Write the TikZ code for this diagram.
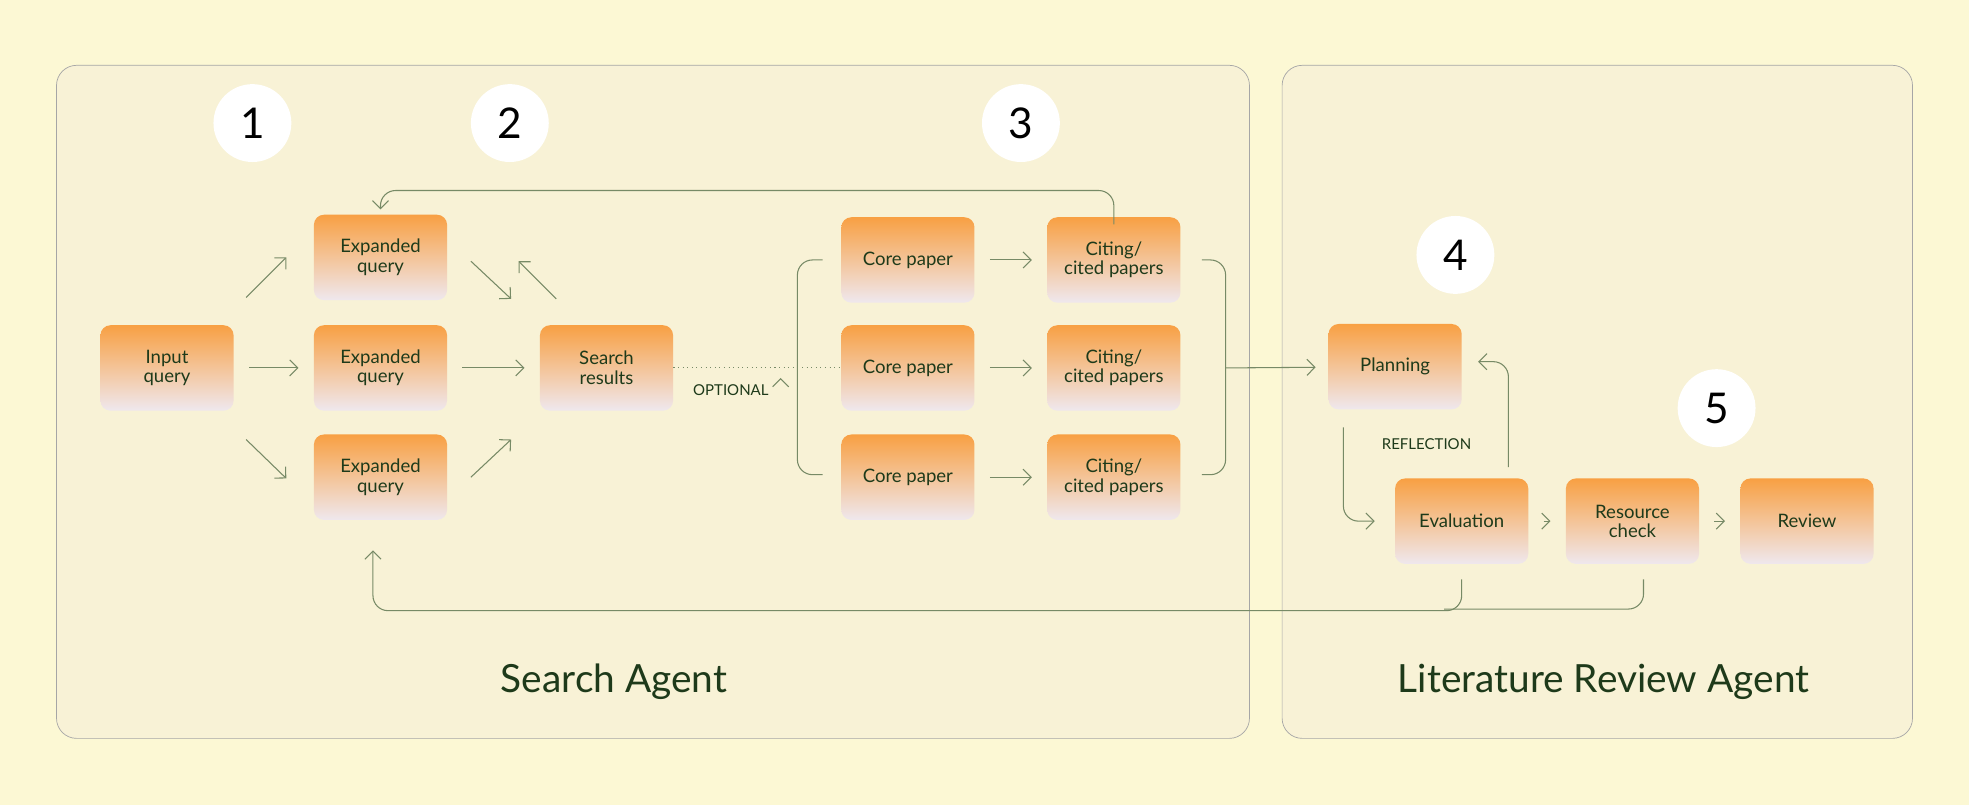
\documentclass[tikz,border=0pt]{standalone}
\usepackage{fontspec}
\setmainfont{Lato}
\usetikzlibrary{arrows.meta}
\definecolor{bg}{HTML}{FCF8D4}
\definecolor{panel}{HTML}{F8F2D6}
\definecolor{ink}{HTML}{1E3A1A}
\definecolor{wire}{HTML}{778A66}
\definecolor{ora}{HTML}{F8A043}
\definecolor{lav}{HTML}{EFE8EE}
\tikzset{
  box/.style={rounded corners=0.2cm, minimum width=2.65cm, minimum height=1.7cm, align=center,
    top color=ora, bottom color=lav, draw=none, text=ink, font=\fontsize{10.5}{11}\selectfont},
  num/.style={circle, fill=white, minimum size=1.55cm, text=black, font=\fontsize{24}{24}\selectfont},
  arr/.style={-{Straight Barb[length=1.6mm,width=3.2mm]}, draw=wire, line width=0.6pt},
  gap/.style={shorten <=0.3cm, shorten >=0.3cm},
  lbl/.style={text=ink, font=\fontsize{8.5}{9}\selectfont},
  ttl/.style={text=ink, font=\fontsize{22}{24}\selectfont}
}
\begin{document}
\begin{tikzpicture}[x=0.025cm, y=-0.025cm]
\useasboundingbox[fill=bg] (0,0) rectangle (1568,641);
\draw[fill=panel, draw=black!35, rounded corners=0.4cm, line width=0.4pt] (45,52) rectangle (995,588);
\draw[fill=panel, draw=black!35, rounded corners=0.4cm, line width=0.4pt] (1021,52) rectangle (1523,588);

\node (n1) at (201,98) [num] {1};
\node (n2) at (406,98) [num] {2};
\node (n3) at (813,98) [num] {3};
\node (n4) at (1159,203) [num] {4};
\node (n5) at (1367,325) [num] {5};

\node (in) at (133,293) [box] {Input\\query};
\node (e1) at (303,205) [box] {Expanded\\query};
\node (e2) at (303,293) [box] {Expanded\\query};
\node (e3) at (303,380) [box] {Expanded\\query};
\node (sr) at (483,293) [box] {Search\\results};
\node (c1) at (723,207) [box] {Core paper};
\node (c2) at (723,293) [box] {Core paper};
\node (c3) at (723,380) [box] {Core paper};
\node (p1) at (887,207) [box] {Citing/\\cited papers};
\node (p2) at (887,293) [box] {Citing/\\cited papers};
\node (p3) at (887,380) [box] {Citing/\\cited papers};
\node (pl) at (1111,292) [box] {Planning};
\node (ev) at (1164,415) [box] {Evaluation};
\node (rc) at (1300,415) [box] {Resource\\check};
\node (rv) at (1439,415) [box] {Review};

\node (opt) at (582,311) [lbl] {OPTIONAL};
\node (refl) at (1136,354) [lbl] {REFLECTION};
\node (sa) at (489,543) [ttl] {Search Agent};
\node (lra) at (1277,543) [ttl] {Literature Review Agent};

% free ends of the short arrows
\coordinate (a1) at (196,237); \coordinate (b1) at (228,205);
\coordinate (a3) at (196,350); \coordinate (b3) at (228,381);
\coordinate (a4) at (375,208); \coordinate (b4) at (407,238);
\coordinate (a5) at (443,238); \coordinate (b5) at (413,208);
\coordinate (a6) at (375,380); \coordinate (b6) at (407,350);

\draw[arr] (a1) -- (b1);
\draw[arr] (a3) -- (b3);
\draw[arr] (a4) -- (b4);
\draw[arr] (a5) -- (b5);
\draw[arr] (a6) -- (b6);
\draw
  (in) edge[arr, gap] (e2)
  (e2) edge[arr, gap] (sr)
  (c1) edge[arr, gap] (p1)
  (c2) edge[arr, gap] (p2)
  (c3) edge[arr, gap] (p3)
  (ev) edge[arr, gap] (rc)
  (rc) edge[arr, gap] (rv)
  ;
\draw[arr, dotted, shorten <=0.18cm, shorten >=0.2cm] (sr) -- (sr -| c1.west) ++(-48,0);
\draw[draw=wire, line width=0.6pt, rounded corners=0.3cm] (655,207) -- (635,207) -- (635,378) -- (655,378);
\draw[draw=wire, line width=0.6pt, rounded corners=0.3cm] (957,207) -- (976,207) -- (976,378) -- (957,378);
\coordinate (br) at (976,293);
\draw[arr, shorten >=0.25cm] (br) -- (pl);

% feedback loops
\draw[arr, rounded corners=0.3cm] ([yshift=-0.15cm]p1.north) -- ++(0,-27) -| ([yshift=0.1cm]e1.north);
\draw[arr, rounded corners=0.3cm] ([yshift=-0.3cm]ev.south) -- ++(0,25) -| ([yshift=-0.6cm]e3.south -| 297,0);
\draw[draw=wire, line width=0.6pt, rounded corners=0.3cm] ([xshift=0.22cm,yshift=-0.3cm]rc.south) |- (1150,485);
\draw[arr, rounded corners=0.3cm] ([xshift=-1.03cm,yshift=-0.35cm]pl.south) |- ([xshift=-0.4cm]ev.west);
\draw[arr, rounded corners=0.3cm] ([xshift=0.93cm,yshift=0.22cm]ev.north) |- ([xshift=0.32cm,yshift=0.1cm]pl.east);
\end{tikzpicture}
\end{document}
